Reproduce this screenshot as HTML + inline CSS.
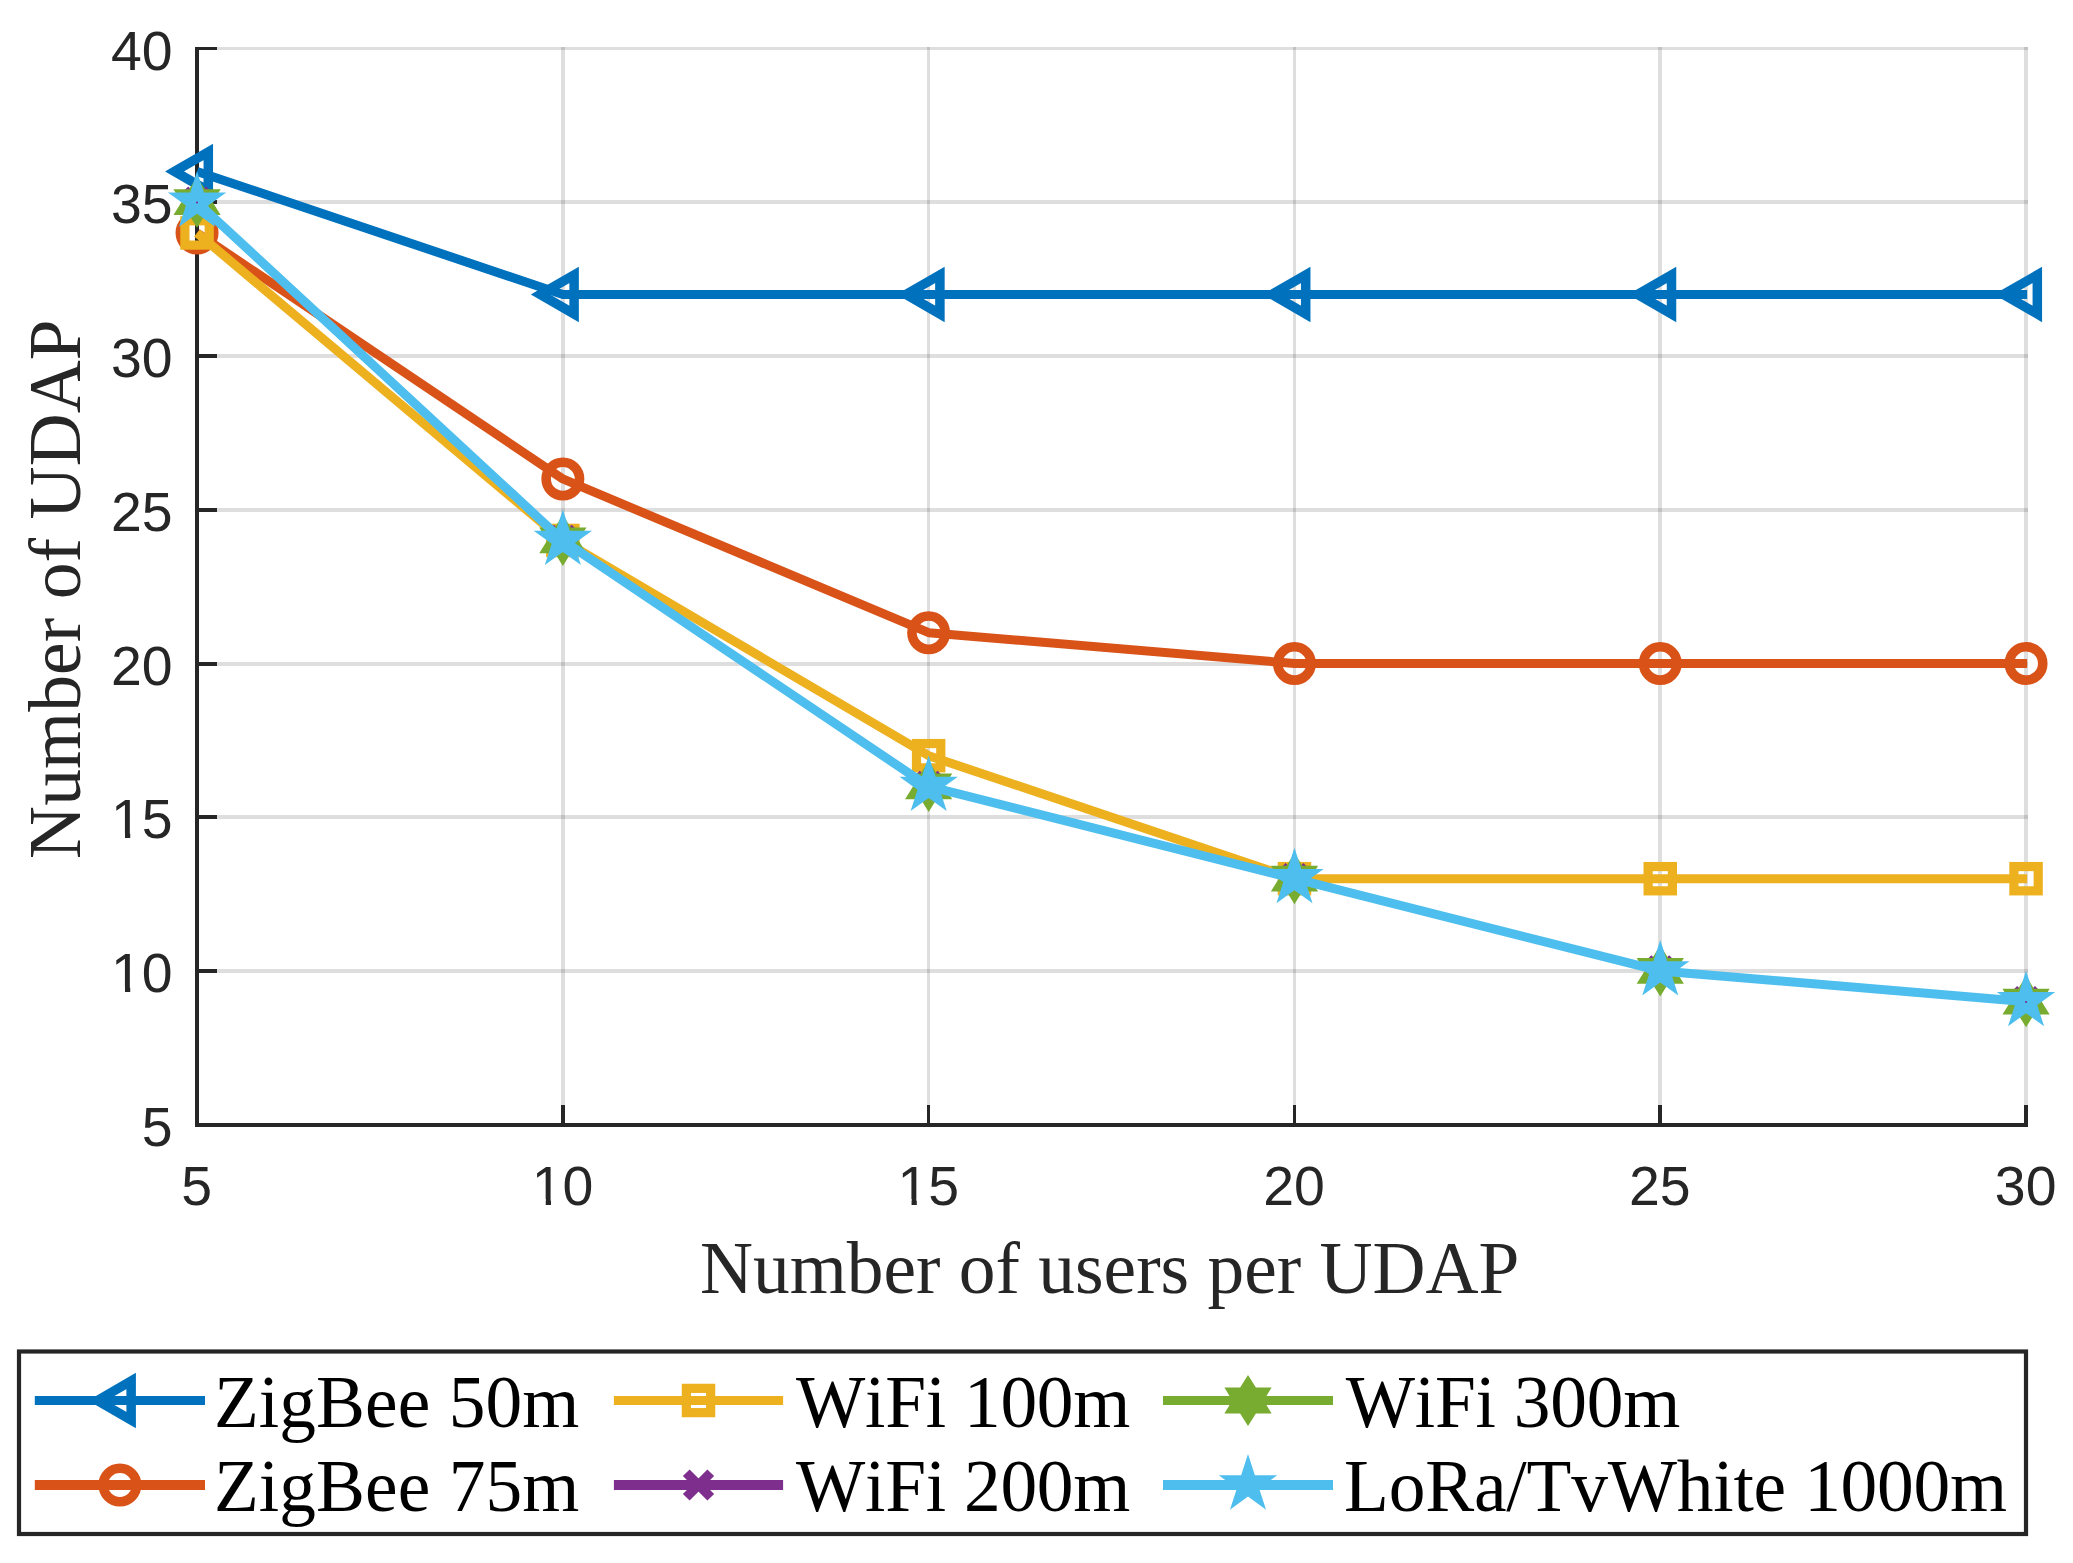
<!DOCTYPE html>
<html lang="en"><head><meta charset="utf-8"><title>Number of UDAP vs users per UDAP</title>
<style>html,body{margin:0;padding:0;background:#fff}body{width:2073px;height:1563px;overflow:hidden}svg{display:block}
.t{font-family:"Liberation Sans",Arial,sans-serif;font-size:55.4px;fill:#262626}
.s{font-family:"Liberation Serif","Times New Roman",serif;font-size:73.4px;fill:#262626;font-kerning:none}
.l{font-family:"Liberation Serif","Times New Roman",serif;font-size:73.4px;fill:#000;font-kerning:none}
</style></head><body>
<svg width="2073" height="1563" viewBox="0 0 2073 1563">
<rect width="2073" height="1563" fill="#fff"/>
<g fill="#dedede">
<rect x="561" y="47" width="4" height="1076"/>
<rect x="927" y="47" width="3" height="1076"/>
<rect x="1293" y="47" width="3" height="1076"/>
<rect x="1658" y="47" width="4" height="1076"/>
<rect x="2024" y="47" width="4" height="1076"/>
<rect x="199" y="47" width="1829" height="3"/>
<rect x="199" y="200" width="1829" height="4"/>
<rect x="199" y="354" width="1829" height="4"/>
<rect x="199" y="508" width="1829" height="4"/>
<rect x="199" y="662" width="1829" height="4"/>
<rect x="199" y="815" width="1829" height="4"/>
<rect x="199" y="969" width="1829" height="4"/>
</g>
<g fill="#c2c2c2">
<rect x="561" y="47" width="4" height="3"/>
<rect x="561" y="200" width="4" height="4"/>
<rect x="561" y="354" width="4" height="4"/>
<rect x="561" y="508" width="4" height="4"/>
<rect x="561" y="662" width="4" height="4"/>
<rect x="561" y="815" width="4" height="4"/>
<rect x="561" y="969" width="4" height="4"/>
<rect x="927" y="47" width="3" height="3"/>
<rect x="927" y="200" width="3" height="4"/>
<rect x="927" y="354" width="3" height="4"/>
<rect x="927" y="508" width="3" height="4"/>
<rect x="927" y="662" width="3" height="4"/>
<rect x="927" y="815" width="3" height="4"/>
<rect x="927" y="969" width="3" height="4"/>
<rect x="1293" y="47" width="3" height="3"/>
<rect x="1293" y="200" width="3" height="4"/>
<rect x="1293" y="354" width="3" height="4"/>
<rect x="1293" y="508" width="3" height="4"/>
<rect x="1293" y="662" width="3" height="4"/>
<rect x="1293" y="815" width="3" height="4"/>
<rect x="1293" y="969" width="3" height="4"/>
<rect x="1658" y="47" width="4" height="3"/>
<rect x="1658" y="200" width="4" height="4"/>
<rect x="1658" y="354" width="4" height="4"/>
<rect x="1658" y="508" width="4" height="4"/>
<rect x="1658" y="662" width="4" height="4"/>
<rect x="1658" y="815" width="4" height="4"/>
<rect x="1658" y="969" width="4" height="4"/>
<rect x="2024" y="47" width="4" height="3"/>
<rect x="2024" y="200" width="4" height="4"/>
<rect x="2024" y="354" width="4" height="4"/>
<rect x="2024" y="508" width="4" height="4"/>
<rect x="2024" y="662" width="4" height="4"/>
<rect x="2024" y="815" width="4" height="4"/>
<rect x="2024" y="969" width="4" height="4"/>
</g>
<g fill="#262626">
<rect x="195" y="47" width="4" height="1080"/>
<rect x="195" y="1123" width="1833" height="4"/>
<rect x="561" y="1105" width="4" height="20"/>
<rect x="927" y="1105" width="3" height="20"/>
<rect x="1293" y="1105" width="3" height="20"/>
<rect x="1658" y="1105" width="4" height="20"/>
<rect x="2024" y="1105" width="4" height="20"/>
<rect x="197" y="47" width="20" height="3"/>
<rect x="197" y="200" width="20" height="4"/>
<rect x="197" y="354" width="20" height="4"/>
<rect x="197" y="508" width="20" height="4"/>
<rect x="197" y="662" width="20" height="4"/>
<rect x="197" y="815" width="20" height="4"/>
<rect x="197" y="969" width="20" height="4"/>
</g>
<g class="t">
<text x="196.65" y="1204.5" text-anchor="middle">5</text>
<text x="562.45" y="1204.5" text-anchor="middle">10</text>
<text x="928.25" y="1204.5" text-anchor="middle">15</text>
<text x="1294.06" y="1204.5" text-anchor="middle">20</text>
<text x="1659.86" y="1204.5" text-anchor="middle">25</text>
<text x="2025.66" y="1204.5" text-anchor="middle">30</text>
<text x="172.5" y="1145.9" text-anchor="end">5</text>
<text x="172.5" y="992.15" text-anchor="end">10</text>
<text x="172.5" y="838.4" text-anchor="end">15</text>
<text x="172.5" y="684.65" text-anchor="end">20</text>
<text x="172.5" y="530.9" text-anchor="end">25</text>
<text x="172.5" y="377.15" text-anchor="end">30</text>
<text x="172.5" y="223.4" text-anchor="end">35</text>
<text x="172.5" y="69.65" text-anchor="end">40</text>
</g>
<g fill="#fff">
<rect x="534.84" y="1199" width="10.9" height="7"/>
<rect x="550.99" y="1199" width="10.4" height="7"/>
<rect x="114.08" y="986.65" width="10.9" height="7"/>
<rect x="130.23" y="986.65" width="10.4" height="7"/>
<rect x="900.65" y="1199" width="10.9" height="7"/>
<rect x="916.8" y="1199" width="10.4" height="7"/>
<rect x="114.08" y="832.9" width="10.9" height="7"/>
<rect x="130.23" y="832.9" width="10.4" height="7"/>
</g>
<text class="s" x="700" y="1292.8">Number of users per UDAP</text>
<text class="s" transform="translate(80 858.9) rotate(-90)" style="letter-spacing:0.11px">Number of UDAP</text>
<g>
<polyline points="197.05,171.45 562.85,294.45 928.65,294.45 1294.46,294.45 1660.26,294.45 2027.16,294.45" fill="none" stroke="#0072BD" stroke-width="9" stroke-linejoin="round"/>
<polygon points="174.55,171.45 208.3,151.96 208.3,190.94" fill="none" stroke="#0072BD" stroke-width="9.5" stroke-linejoin="miter"/>
<polygon points="540.35,294.45 574.1,274.96 574.1,313.94" fill="none" stroke="#0072BD" stroke-width="9.5" stroke-linejoin="miter"/>
<polygon points="906.15,294.45 939.9,274.96 939.9,313.94" fill="none" stroke="#0072BD" stroke-width="9.5" stroke-linejoin="miter"/>
<polygon points="1271.96,294.45 1305.71,274.96 1305.71,313.94" fill="none" stroke="#0072BD" stroke-width="9.5" stroke-linejoin="miter"/>
<polygon points="1637.76,294.45 1671.51,274.96 1671.51,313.94" fill="none" stroke="#0072BD" stroke-width="9.5" stroke-linejoin="miter"/>
<polygon points="2003.56,294.45 2037.31,274.96 2037.31,313.94" fill="none" stroke="#0072BD" stroke-width="9.5" stroke-linejoin="miter"/>
</g>
<g>
<polyline points="197.05,232.95 562.85,478.95 928.65,632.7 1294.46,663.45 1660.26,663.45 2027.16,663.45" fill="none" stroke="#D95319" stroke-width="9" stroke-linejoin="round"/>
<circle cx="197.05" cy="232.95" r="16.7" fill="none" stroke="#D95319" stroke-width="9.6"/>
<circle cx="562.85" cy="478.95" r="16.7" fill="none" stroke="#D95319" stroke-width="9.6"/>
<circle cx="928.65" cy="632.7" r="16.7" fill="none" stroke="#D95319" stroke-width="9.6"/>
<circle cx="1294.46" cy="663.45" r="16.7" fill="none" stroke="#D95319" stroke-width="9.6"/>
<circle cx="1660.26" cy="663.45" r="16.7" fill="none" stroke="#D95319" stroke-width="9.6"/>
<circle cx="2026.06" cy="663.45" r="16.7" fill="none" stroke="#D95319" stroke-width="9.6"/>
</g>
<g>
<polyline points="197.05,232.95 562.85,540.45 928.65,755.7 1294.46,878.7 1660.26,878.7 2027.16,878.7" fill="none" stroke="#EDB120" stroke-width="9" stroke-linejoin="round"/>
<rect x="184.9" y="220.8" width="24.3" height="24.3" fill="none" stroke="#EDB120" stroke-width="9.2"/>
<rect x="550.7" y="528.3" width="24.3" height="24.3" fill="none" stroke="#EDB120" stroke-width="9.2"/>
<rect x="916.5" y="743.55" width="24.3" height="24.3" fill="none" stroke="#EDB120" stroke-width="9.2"/>
<rect x="1282.31" y="866.55" width="24.3" height="24.3" fill="none" stroke="#EDB120" stroke-width="9.2"/>
<rect x="1648.11" y="866.55" width="24.3" height="24.3" fill="none" stroke="#EDB120" stroke-width="9.2"/>
<rect x="2013.91" y="866.55" width="24.3" height="24.3" fill="none" stroke="#EDB120" stroke-width="9.2"/>
</g>
<g>
<path d="M184.8 189.95L209.3 214.45M184.8 214.45L209.3 189.95" fill="none" stroke="#7E2F8E" stroke-width="9.5"/>
<path d="M550.6 528.2L575.1 552.7M550.6 552.7L575.1 528.2" fill="none" stroke="#7E2F8E" stroke-width="9.5"/>
<path d="M916.4 774.2L940.9 798.7M916.4 798.7L940.9 774.2" fill="none" stroke="#7E2F8E" stroke-width="9.5"/>
<path d="M1282.21 866.45L1306.71 890.95M1282.21 890.95L1306.71 866.45" fill="none" stroke="#7E2F8E" stroke-width="9.5"/>
<path d="M1648.01 958.7L1672.51 983.2M1648.01 983.2L1672.51 958.7" fill="none" stroke="#7E2F8E" stroke-width="9.5"/>
<path d="M2013.81 989.45L2038.31 1013.95M2013.81 1013.95L2038.31 989.45" fill="none" stroke="#7E2F8E" stroke-width="9.5"/>
</g>
<g>
<polygon points="197.05,176.6 204.95,189.3 220.65,189.3 212.75,202.2 220.65,215.1 204.95,215.1 197.05,227.8 189.15,215.1 173.45,215.1 181.35,202.2 173.45,189.3 189.15,189.3" fill="#77AC30"/>
<polygon points="562.85,514.85 570.75,527.55 586.45,527.55 578.55,540.45 586.45,553.35 570.75,553.35 562.85,566.05 554.95,553.35 539.25,553.35 547.15,540.45 539.25,527.55 554.95,527.55" fill="#77AC30"/>
<polygon points="928.65,760.85 936.55,773.55 952.25,773.55 944.35,786.45 952.25,799.35 936.55,799.35 928.65,812.05 920.75,799.35 905.05,799.35 912.95,786.45 905.05,773.55 920.75,773.55" fill="#77AC30"/>
<polygon points="1294.46,853.1 1302.36,865.8 1318.06,865.8 1310.16,878.7 1318.06,891.6 1302.36,891.6 1294.46,904.3 1286.56,891.6 1270.86,891.6 1278.76,878.7 1270.86,865.8 1286.56,865.8" fill="#77AC30"/>
<polygon points="1660.26,945.35 1668.16,958.05 1683.86,958.05 1675.96,970.95 1683.86,983.85 1668.16,983.85 1660.26,996.55 1652.36,983.85 1636.66,983.85 1644.56,970.95 1636.66,958.05 1652.36,958.05" fill="#77AC30"/>
<polygon points="2026.06,976.1 2033.96,988.8 2049.66,988.8 2041.76,1001.7 2049.66,1014.6 2033.96,1014.6 2026.06,1027.3 2018.16,1014.6 2002.46,1014.6 2010.36,1001.7 2002.46,988.8 2018.16,988.8" fill="#77AC30"/>
</g>
<g>
<polyline points="197.05,202.2 562.85,540.45 928.65,786.45 1294.46,878.7 1660.26,970.95 2027.16,1001.79" fill="none" stroke="#4DBEEE" stroke-width="9" stroke-linejoin="round"/>
<polygon points="197.05,171.3 203.94,192.51 226.25,192.51 208.2,205.62 215.1,226.84 197.05,213.73 179,226.84 185.9,205.62 167.85,192.51 190.16,192.51" fill="#4DBEEE"/>
<polygon points="562.85,509.55 569.75,530.76 592.05,530.76 574.01,543.87 580.9,565.09 562.85,551.98 544.81,565.09 551.7,543.87 533.65,530.76 555.96,530.76" fill="#4DBEEE"/>
<polygon points="928.65,755.55 935.55,776.76 957.85,776.76 939.81,789.87 946.7,811.09 928.65,797.98 910.61,811.09 917.5,789.87 899.46,776.76 921.76,776.76" fill="#4DBEEE"/>
<polygon points="1294.46,847.8 1301.35,869.01 1323.65,869.01 1305.61,882.12 1312.5,903.34 1294.46,890.23 1276.41,903.34 1283.3,882.12 1265.26,869.01 1287.56,869.01" fill="#4DBEEE"/>
<polygon points="1660.26,940.05 1667.15,961.26 1689.46,961.26 1671.41,974.37 1678.3,995.59 1660.26,982.48 1642.21,995.59 1649.1,974.37 1631.06,961.26 1653.36,961.26" fill="#4DBEEE"/>
<polygon points="2026.06,970.8 2032.95,992.01 2055.26,992.01 2037.21,1005.12 2044.11,1026.34 2026.06,1013.23 2008.01,1026.34 2014.91,1005.12 1996.86,992.01 2019.17,992.01" fill="#4DBEEE"/>
</g>
<circle cx="197.05" cy="202.5" r="1.1" fill="#7E2F8E"/>
<circle cx="2026.06" cy="1002" r="1.1" fill="#7E2F8E"/>
<rect x="19" y="1351.5" width="2007" height="182.5" fill="#fff" stroke="#262626" stroke-width="4.2"/>
<line x1="34.8" y1="1400.5" x2="205" y2="1400.5" stroke="#0072BD" stroke-width="9"/>
<polygon points="97.4,1400.5 131.15,1381.01 131.15,1419.99" fill="none" stroke="#0072BD" stroke-width="9.5" stroke-linejoin="miter"/>
<text class="l" x="213.9" y="1426.9" style="letter-spacing:0.06px">ZigBee 50m</text>
<line x1="34.8" y1="1485" x2="205" y2="1485" stroke="#D95319" stroke-width="10"/>
<circle cx="119.9" cy="1485" r="16.7" fill="none" stroke="#D95319" stroke-width="9.6"/>
<text class="l" x="213.9" y="1511.1" style="letter-spacing:0.06px">ZigBee 75m</text>
<line x1="613.9" y1="1400.5" x2="783.1" y2="1400.5" stroke="#EDB120" stroke-width="9"/>
<rect x="686.35" y="1388.35" width="24.3" height="24.3" fill="none" stroke="#EDB120" stroke-width="9.2"/>
<text class="l" x="796" y="1426.9" style="letter-spacing:-0.25px">WiFi 100m</text>
<line x1="613.9" y1="1485" x2="783.1" y2="1485" stroke="#7E2F8E" stroke-width="10"/>
<path d="M686.25 1472.75L710.75 1497.25M686.25 1497.25L710.75 1472.75" fill="none" stroke="#7E2F8E" stroke-width="9.5"/>
<text class="l" x="796" y="1511.1" style="letter-spacing:-0.25px">WiFi 200m</text>
<line x1="1163" y1="1400.5" x2="1333" y2="1400.5" stroke="#77AC30" stroke-width="9"/>
<polygon points="1248,1374.9 1255.9,1387.6 1271.6,1387.6 1263.7,1400.5 1271.6,1413.4 1255.9,1413.4 1248,1426.1 1240.1,1413.4 1224.4,1413.4 1232.3,1400.5 1224.4,1387.6 1240.1,1387.6" fill="#77AC30"/>
<text class="l" x="1345.85" y="1426.9" style="letter-spacing:-0.25px">WiFi 300m</text>
<line x1="1163" y1="1485" x2="1333" y2="1485" stroke="#4DBEEE" stroke-width="10"/>
<polygon points="1248,1454.1 1254.89,1475.31 1277.2,1475.31 1259.15,1488.42 1266.05,1509.64 1248,1496.53 1229.95,1509.64 1236.85,1488.42 1218.8,1475.31 1241.11,1475.31" fill="#4DBEEE"/>
<text class="l" x="1344.1" y="1511.1" style="letter-spacing:-0.2px">LoRa/TvWhite 1000m</text>
</svg></body></html>
